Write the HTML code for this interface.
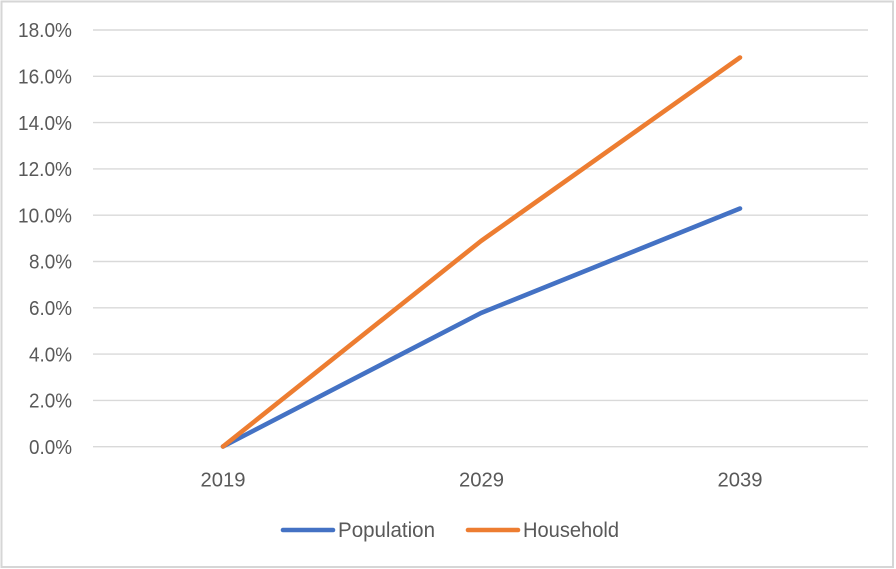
<!DOCTYPE html>
<html>
<head>
<meta charset="utf-8">
<style>
  html, body { margin: 0; padding: 0; background: #ffffff; }
  svg { display: block; }
  text { font-family: "Liberation Sans", "DejaVu Sans", sans-serif; fill: #595959; }
</style>
</head>
<body>
<svg width="896" height="569" viewBox="0 0 896 569" xmlns="http://www.w3.org/2000/svg">
  <rect x="0" y="0" width="896" height="569" fill="#ffffff"/>
  <rect x="1.5" y="1.5" width="891.5" height="565.5" fill="none" stroke="#D6D6D6" stroke-width="2"/>

  <!-- gridlines -->
  <g stroke="#D9D9D9" stroke-width="1.4">
    <line x1="93" y1="30" x2="868" y2="30"/>
    <line x1="93" y1="76.3" x2="868" y2="76.3"/>
    <line x1="93" y1="122.6" x2="868" y2="122.6"/>
    <line x1="93" y1="168.9" x2="868" y2="168.9"/>
    <line x1="93" y1="215.2" x2="868" y2="215.2"/>
    <line x1="93" y1="261.5" x2="868" y2="261.5"/>
    <line x1="93" y1="307.8" x2="868" y2="307.8"/>
    <line x1="93" y1="354.1" x2="868" y2="354.1"/>
    <line x1="93" y1="400.4" x2="868" y2="400.4"/>
    <line x1="93" y1="446.7" x2="868" y2="446.7"/>
  </g>

  <!-- y labels -->
  <g font-size="20.5" text-anchor="end">
    <text x="72" y="37.2" textLength="54" lengthAdjust="spacingAndGlyphs">18.0%</text>
    <text x="72" y="83.5" textLength="54" lengthAdjust="spacingAndGlyphs">16.0%</text>
    <text x="72" y="129.8" textLength="54" lengthAdjust="spacingAndGlyphs">14.0%</text>
    <text x="72" y="176.1" textLength="54" lengthAdjust="spacingAndGlyphs">12.0%</text>
    <text x="72" y="222.4" textLength="54" lengthAdjust="spacingAndGlyphs">10.0%</text>
    <text x="72" y="268.7" textLength="43" lengthAdjust="spacingAndGlyphs">8.0%</text>
    <text x="72" y="315" textLength="43" lengthAdjust="spacingAndGlyphs">6.0%</text>
    <text x="72" y="361.3" textLength="43" lengthAdjust="spacingAndGlyphs">4.0%</text>
    <text x="72" y="407.6" textLength="43" lengthAdjust="spacingAndGlyphs">2.0%</text>
    <text x="72" y="453.9" textLength="43" lengthAdjust="spacingAndGlyphs">0.0%</text>
  </g>

  <!-- x labels -->
  <g font-size="20.5" text-anchor="middle">
    <text x="223" y="486.5" textLength="45" lengthAdjust="spacingAndGlyphs">2019</text>
    <text x="481.5" y="486.5" textLength="45" lengthAdjust="spacingAndGlyphs">2029</text>
    <text x="740" y="486.5" textLength="45" lengthAdjust="spacingAndGlyphs">2039</text>
  </g>

  <!-- series -->
  <polyline points="223,446.5 481,313 740,208.5" fill="none" stroke="#4472C4" stroke-width="4.6" stroke-linecap="round" stroke-linejoin="round"/>
  <polyline points="223,446.5 481,241 740,57.5" fill="none" stroke="#ED7D31" stroke-width="4.6" stroke-linecap="round" stroke-linejoin="round"/>

  <!-- legend -->
  <line x1="283" y1="530" x2="333" y2="530" stroke="#4472C4" stroke-width="4.6" stroke-linecap="round"/>
  <text x="338" y="537" font-size="21" textLength="97" lengthAdjust="spacingAndGlyphs">Population</text>
  <line x1="468" y1="530" x2="518" y2="530" stroke="#ED7D31" stroke-width="4.6" stroke-linecap="round"/>
  <text x="523" y="537" font-size="21" textLength="96" lengthAdjust="spacingAndGlyphs">Household</text>
</svg>
</body>
</html>
